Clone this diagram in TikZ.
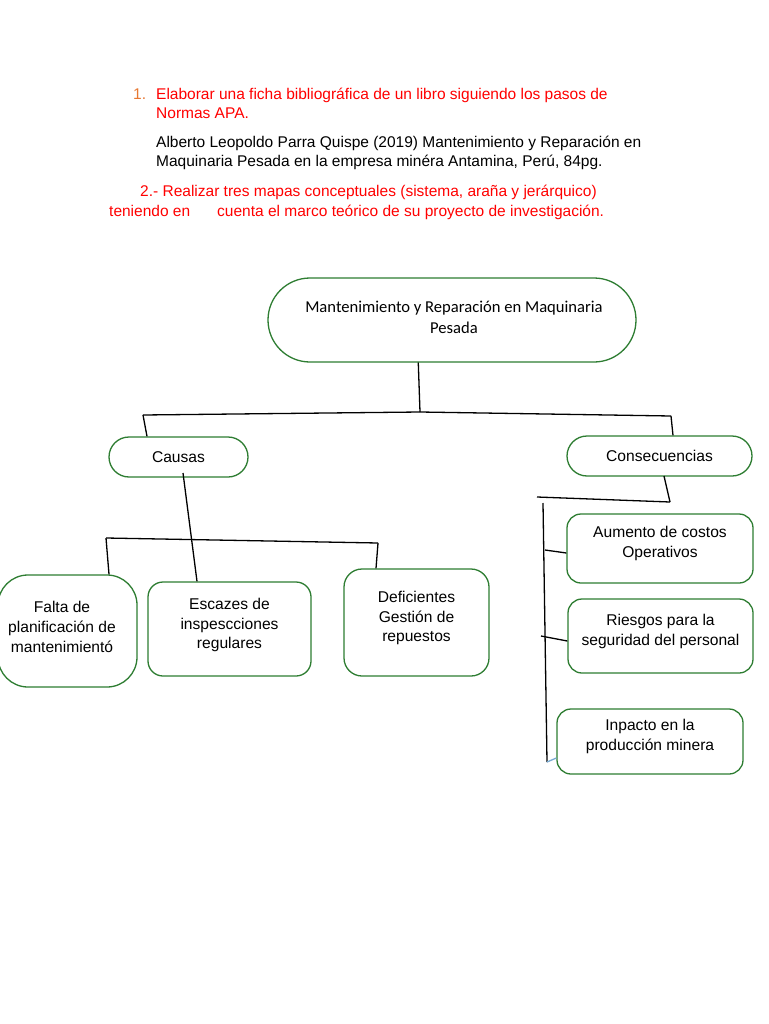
\documentclass[tikz,border=0pt]{standalone}
\usepackage{fontspec}
\setmainfont{Liberation Sans}
\newfontfamily\calibri{Carlito}
\definecolor{boxgreen}{RGB}{46,125,50}
\definecolor{txtred}{RGB}{255,0,0}
\definecolor{txtorange}{RGB}{232,120,50}
\definecolor{lineblue}{RGB}{120,170,210}
\tikzset{
  hdr/.style={anchor=base west, inner sep=0pt, font=\fontsize{15.5}{19.5}\selectfont},
  gbox/.style={draw=boxgreen, line width=1.3pt, inner sep=0pt, fill=white},
  btxt/.style={align=center, inner sep=0pt, font=\fontsize{15.6}{19.6}\selectfont},
  conn/.style={draw=black, line width=1.3pt},
}
\begin{document}
\begin{tikzpicture}[x=1pt,y=-1pt]
\useasboundingbox[fill=white] (0,0) rectangle (768,1024);
% header
\node[hdr, text=txtorange] (n1) at (133,100) {1.};
\node[hdr, text=txtred] (h1) at (156,100) {Elaborar una ficha bibliográfica de un libro siguiendo los pasos de};
\node[hdr, text=txtred] (h2) at (156,119) {Normas APA.};
\node[hdr] (h3) at (156,148) {Alberto Leopoldo Parra Quispe (2019) Mantenimiento y Reparación en};
\node[hdr] (h4) at (156,167) {Maquinaria Pesada en la empresa minéra Antamina, Perú, 84pg.};
\node[hdr, text=txtred] (h5) at (140,197) {2.- Realizar tres mapas conceptuales (sistema, araña y jerárquico)};
\node[hdr, text=txtred] (h6) at (109,217) {teniendo en};
\node[hdr, text=txtred] (h7) at (217,217) {cuenta el marco teórico de su proyecto de investigación.};

% connector coordinates
\coordinate (t0) at (418,355);
\coordinate (j0) at (420,412);
\coordinate (bl) at (143,415);
\coordinate (br) at (671,416);
\coordinate (c0) at (183,473);
\coordinate (b2l) at (106,538);
\coordinate (b2r) at (378,543);
\coordinate (k0) at (664,476);
\coordinate (b3l) at (537,497);
\coordinate (b3r) at (670,502);
\coordinate (vt) at (543,503);
\coordinate (vb) at (547,762);
\coordinate (v1) at (545,550);
\coordinate (v2) at (541,636);

% connectors first (boxes drawn on top)
\draw[conn] (t0) -- (j0);
\draw[conn] (bl) -- (j0) -- (br);
\draw[conn] (b2l) -- (b2r);
\draw[conn] (b3l) -- (b3r);
\draw[conn] (vt) -- (vb);

% boxes
\node[gbox, minimum width=368, minimum height=84, rounded corners=42] (top) at (452,320) {};
\node[btxt, font=\calibri\fontsize{16.6}{21}\selectfont] at (454,317.5) {Mantenimiento y Reparación en Maquinaria\\Pesada};
\node[gbox, minimum width=139, minimum height=40, rounded corners=20] (causas) at (178.5,457) {};
\node[btxt] at (178.5,457) {Causas};
\node[gbox, minimum width=185, minimum height=40, rounded corners=20] (cons) at (659.5,456) {};
\node[btxt] at (659.5,455.5) {Consecuencias};

\node[gbox, minimum width=139, minimum height=112, rounded corners=30] (falta) at (67.5,631) {};
\node[btxt] at (62,627) {Falta de\\planificación de\\mantenimientó};
\node[gbox, minimum width=163, minimum height=94, rounded corners=15] (esc) at (229.5,629) {};
\node[btxt] at (229.5,625) {Escazes de\\inspescciones\\regulares};
\node[gbox, minimum width=145, minimum height=107, rounded corners=18] (def) at (416.5,622.5) {};
\node[btxt] at (416.5,618) {Deficientes\\Gestión de\\repuestos};

\node[gbox, minimum width=186, minimum height=69, rounded corners=14] (aum) at (660,548.5) {};
\node[btxt] at (660,543.5) {Aumento de costos\\Operativos};
\node[gbox, minimum width=185, minimum height=74, rounded corners=14] (rie) at (660.5,636) {};
\node[btxt] at (660.5,631.5) {Riesgos para la\\seguridad del personal};
\node[gbox, minimum width=186, minimum height=65, rounded corners=14] (inp) at (650,741.5) {};
\node[btxt] at (650,736.5) {Inpacto en la\\producción minera};

% connectors to boxes
\draw[conn] (bl) -- (causas.north -| 147,0);
\draw[conn] (br) -- (cons.north -| 673,0);
\draw[conn] (c0) -- (esc.north -| 197,0);
\draw[conn] (b2l) -- (falta.north -| 109,0);
\draw[conn] (b2r) -- (def.north -| 376,0);
\draw[conn] (k0) -- (b3r);
\draw[conn] (v1) -- (aum.west |- 0,553);
\draw[conn] (v2) -- (rie.west |- 0,641);
\draw[conn, draw=lineblue] (vb) -- (inp.west |- 0,758);
\end{tikzpicture}
\end{document}
